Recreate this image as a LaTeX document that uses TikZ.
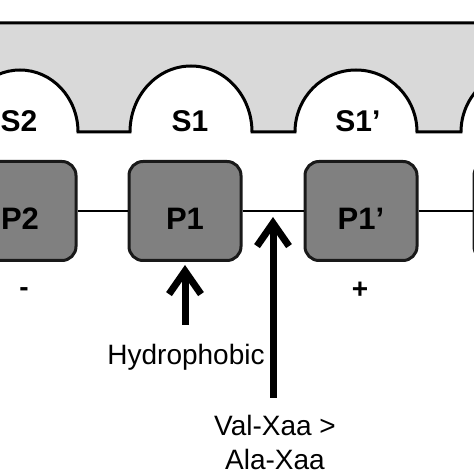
\documentclass[tikz,border=0pt]{standalone}
\usepackage{fontspec}
\setmainfont{Liberation Sans}
\usetikzlibrary{positioning, calc, arrows.meta}
\definecolor{pocketgray}{gray}{0.85}
\definecolor{residuegray}{gray}{0.5}
\tikzset{
	sitelabel/.style={font=\fontsize{30}{36}\selectfont\bfseries}
}
\tikzset{
	residue/.style={draw=black!90, line width=3pt, fill=residuegray, rounded corners=14pt,
		minimum width=112pt, minimum height=99pt, text height=37pt, text depth=0pt,
		font=\fontsize{31}{36}\selectfont\bfseries}
}
\tikzset{
	charge/.style={font=\fontsize{28}{34}\selectfont\bfseries}
}
\tikzset{
	note/.style={font=\fontsize{28}{34}\selectfont, inner sep=1pt}
}
\tikzset{
	pointer/.style={line width=7pt, -{Straight Barb[length=23pt, width=32pt]}}
}

\begin{document}
\begin{tikzpicture}[x=1pt, y=1pt]
  \useasboundingbox (0,0) rectangle (474,474);
  \clip (0,0) rectangle (474,474);
  % enzyme surface with the subsite pockets
  \draw[line width=3pt, fill=pocketgray] (-60,342) -- (-38,342)
    arc[start angle=180, end angle=0, x radius=58, y radius=62] -- (130,342)
    arc[start angle=180, end angle=0, x radius=61, y radius=66] -- (295,342)
    arc[start angle=180, end angle=0, x radius=61, y radius=62] -- (461,342)
    arc[start angle=180, end angle=0, x radius=61, y radius=62] -- (600,342)
    -- (600,451) -- (-60,451) -- cycle;
  \node[sitelabel] (S2) at (19,353) {S2};
  \node[sitelabel] (S1) at (190,353) {S1};
  \node[sitelabel] (S1p) at (358,353) {S1’};
  % substrate residues
  \node[residue] (P1) at (185,263) {P1};
  \node[residue, left=50pt of P1] (P2) {P2};
  \node[residue, right=61pt of P1] (P1p) {P1’};
  \node[residue, right=54pt of P1p] (P2p) {};
  \draw[line width=2pt] (P2) -- (P1);
  \draw[line width=2pt] (P1) -- (P1p);
  \draw[line width=2pt] (P1p) -- (P2p);
  \node[charge] (qP2) at (24,182) {-};
  \node[charge] (qP1p) at (360,184) {+};
  % preferences
  \coordinate (hydtail) at (185,149);
  \draw[pointer] (hydtail) -- ([yshift=-3pt]P1.south);
  \node[note] (hydro) at (186,117) {Hydrophobic};
  \coordinate (scissile) at ($(P1.east)!0.5!(P1p.west)$);
  \coordinate (cuttail) at (273,76);
  \draw[pointer] (cuttail) -- ([yshift=-6pt]scissile);
  \node[note, align=center] (pref) at (275,32) {Val-Xaa >\\Ala-Xaa};
\end{tikzpicture}
\end{document}
